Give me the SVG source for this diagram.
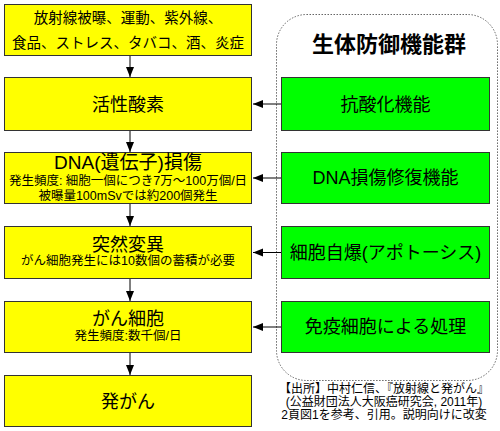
<svg xmlns="http://www.w3.org/2000/svg" width="500" height="431" viewBox="0 0 500 431">
<style>
text{font-family:"Liberation Sans","Noto Sans CJK JP",sans-serif;fill:#000;text-anchor:middle}
.y{fill:#ffff00;stroke:#333;stroke-width:1}
.g{fill:#00ff00;stroke:#333;stroke-width:1}
.c{stroke:#000;stroke-width:1;fill:none}
.t{font-size:18px}
.s{font-size:12.5px}
</style>
<defs>
<marker id="ah" viewBox="0 0 10 10" refX="10" refY="5" markerWidth="10" markerHeight="10" markerUnits="userSpaceOnUse" orient="auto">
<path d="M0,1 L10,5 L0,9 Z" fill="#000"/>
</marker>
</defs>
<rect id="group" x="276.5" y="14.5" width="221" height="366" rx="30" ry="30" fill="none" stroke="#666" stroke-width="1" stroke-dasharray="1.5,1.5"/>
<text x="389" y="52" style="font-size:22px;font-weight:bold">生体防御機能群</text>
<g id="connectors">
<line class="c" x1="130" y1="55.5" x2="130" y2="77" marker-end="url(#ah)"/>
<line class="c" x1="130" y1="131" x2="130" y2="152" marker-end="url(#ah)"/>
<line class="c" x1="130" y1="204" x2="130" y2="226" marker-end="url(#ah)"/>
<line class="c" x1="130" y1="279" x2="130" y2="301" marker-end="url(#ah)"/>
<line class="c" x1="130" y1="353" x2="130" y2="375" marker-end="url(#ah)"/>
<line class="c" x1="281" y1="104" x2="253" y2="104" marker-end="url(#ah)"/>
<line class="c" x1="281" y1="178" x2="253" y2="178" marker-end="url(#ah)"/>
<line class="c" x1="281" y1="252.5" x2="253" y2="252.5" marker-end="url(#ah)"/>
<line class="c" x1="281" y1="327" x2="253" y2="327" marker-end="url(#ah)"/>
</g>
<g id="causes">
<rect class="y" x="4.5" y="4.5" width="247" height="51"/>
<text x="128" y="23" style="font-size:14.5px">放射線被曝、運動、紫外線、</text>
<text x="128" y="48" style="font-size:14.5px">食品、ストレス、タバコ、酒、炎症</text>
</g>
<g id="ros">
<rect class="y" x="4.5" y="77.5" width="247" height="53"/>
<text class="t" x="128" y="111">活性酸素</text>
</g>
<g id="dna">
<rect class="y" x="4.5" y="152.5" width="247" height="51"/>
<text x="128" y="169" style="font-size:19px">DNA(遺伝子)損傷</text>
<text class="s" x="128" y="185">発生頻度: 細胞一個につき7万～100万個/日</text>
<text class="s" x="128" y="200">被曝量100mSvでは約200個発生</text>
</g>
<g id="mutation">
<rect class="y" x="4.5" y="226.5" width="247" height="52"/>
<text class="t" x="128" y="251">突然変異</text>
<text class="s" x="128" y="265">がん細胞発生には10数個の蓄積が必要</text>
</g>
<g id="cancercell">
<rect class="y" x="4.5" y="301.5" width="247" height="51"/>
<text class="t" x="128" y="325">がん細胞</text>
<text class="s" x="128" y="340">発生頻度:数千個/日</text>
</g>
<g id="cancer">
<rect class="y" x="4.5" y="375.5" width="247" height="51"/>
<text class="t" x="128" y="408">発がん</text>
</g>
<g id="antiox">
<rect class="g" x="281.5" y="77.5" width="208" height="53"/>
<text class="t" x="385.5" y="111">抗酸化機能</text>
</g>
<g id="dnarepair">
<rect class="g" x="281.5" y="152.5" width="208" height="51"/>
<text class="t" x="385.5" y="184">DNA損傷修復機能</text>
</g>
<g id="apoptosis">
<rect class="g" x="281.5" y="226.5" width="208" height="52"/>
<text class="t" x="385.5" y="259">細胞自爆(アポトーシス)</text>
</g>
<g id="immune">
<rect class="g" x="281.5" y="301.5" width="208" height="51"/>
<text class="t" x="385.5" y="333">免疫細胞による処理</text>
</g>
<g id="source" style="font-size:12px">
<text x="384" y="393">【出所】中村仁信、『放射線と発がん』</text>
<text x="384" y="406">(公益財団法人大阪癌研究会, 2011年)</text>
<text x="384" y="419">2頁図1を参考、引用。説明向けに改変</text>
</g>
</svg>
